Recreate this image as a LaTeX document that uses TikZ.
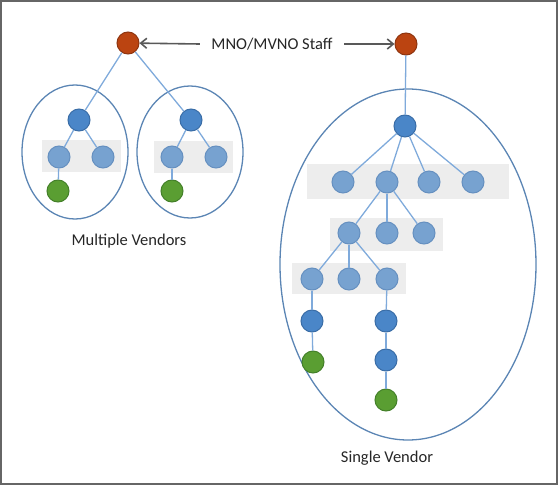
\documentclass[tikz,border=0pt]{standalone}
\usepackage{fontspec}
\setmainfont{Carlito}
\usetikzlibrary{arrows.meta}
\definecolor{rootc}{HTML}{BB4411}
\definecolor{rootd}{HTML}{8E3510}
\definecolor{bluec}{HTML}{4A86C8}
\definecolor{blued}{HTML}{3A6DA6}
\definecolor{lbluec}{HTML}{77A2D0}
\definecolor{lblued}{HTML}{6690C0}
\definecolor{greenc}{HTML}{5A9E32}
\definecolor{greend}{HTML}{44802A}
\definecolor{edgec}{HTML}{7FAADB}
\definecolor{ellc}{HTML}{5B85B4}
\definecolor{bandc}{HTML}{EDEDED}
\definecolor{arrc}{HTML}{595959}
\tikzset{
  x=1pt, y=-1pt,
  dot/.style={circle, minimum size=22pt, inner sep=0pt, line width=1pt},
  root/.style={dot, fill=rootc, draw=rootd},
  bnode/.style={dot, fill=bluec, draw=blued},
  lnode/.style={dot, fill=lbluec, draw=lblued},
  gnode/.style={dot, fill=greenc, draw=greend},
  link/.style={draw=edgec, line width=1.3pt},
  band/.style={fill=bandc, draw=none},
  vendor/.style={draw=ellc, line width=1.3pt},
  staffarrow/.style={draw=arrc, line width=1.6pt, -{Straight Barb[length=6pt,width=10pt]}},
  lbl/.style={font=\fontsize{16.5}{19}\selectfont, text=black!85}
}
\begin{document}
\begin{tikzpicture}
\useasboundingbox (0,0) rectangle (558,485);
\draw[draw=gray!80!black, line width=2pt] (1,1) rectangle (557,484);

% gray bands
\fill[band] (42,140) rectangle (121,172);
\fill[band] (154,141) rectangle (233,173);
\fill[band] (307,164) rectangle (509,199);
\fill[band] (330,218) rectangle (443,251);
\fill[band] (292,263) rectangle (406,294);

% ellipses
\draw[vendor] (75,152) ellipse [x radius=53, y radius=67];
\draw[vendor] (190,152) ellipse [x radius=53, y radius=66];
\draw[vendor] (408,264.5) ellipse [x radius=128, y radius=175.5];

% left trees
\node[root] (r1) at (128,43) {};
\node[bnode] (a1) at (79,120) {};
\node[lnode] (a11) at (59,157) {};
\node[lnode] (a12) at (103,157) {};
\node[gnode] (a111) at (58,191) {};
\node[bnode] (b1) at (191,120) {};
\node[lnode] (b11) at (172,157) {};
\node[lnode] (b12) at (216,157) {};
\node[gnode] (b111) at (172,191) {};

% right tree
\node[root] (r2) at (406,44) {};
\node[bnode] (c) at (405,126) {};
\node[lnode] (c1) at (343,182) {};
\node[lnode] (c2) at (387,182) {};
\node[lnode] (c3) at (429,182) {};
\node[lnode] (c4) at (473,182) {};
\node[lnode] (d1) at (349,233) {};
\node[lnode] (d2) at (387,233) {};
\node[lnode] (d3) at (424,233) {};
\node[lnode] (e1) at (312,279) {};
\node[lnode] (e2) at (349,279) {};
\node[lnode] (e3) at (387,279) {};
\node[bnode] (f1) at (312,321) {};
\node[gnode] (g1) at (313,362) {};
\node[bnode] (f3) at (386,321) {};
\node[bnode] (h3) at (386,360) {};
\node[gnode] (g3) at (386,400) {};

% links
\draw[link] (r1) -- (a1);
\draw[link] (r1) -- (b1);
\draw[link] (a1) -- (a11);
\draw[link] (a1) -- (a12);
\draw[link] (a11) -- (a111);
\draw[link] (b1) -- (b11);
\draw[link] (b1) -- (b12);
\draw[link] (b11) -- (b111);
\draw[link] (r2) -- (c);
\foreach \n in {c1,c2,c3,c4} \draw[link] (c) -- (\n);
\foreach \n in {d1,d2,d3} \draw[link] (c2) -- (\n);
\foreach \n in {e1,e2,e3} \draw[link] (d1) -- (\n);
\draw[link] (e1) -- (f1);
\draw[link] (f1) -- (g1);
\draw[link] (e3) -- (f3);
\draw[link] (f3) -- (h3);
\draw[link] (h3) -- (g3);

% labels
\node[lbl] (staff) at (272,44) {MNO/MVNO Staff};
\coordinate (sl) at ([xshift=-8pt]staff.west);
\coordinate (sr) at ([xshift=8pt]staff.east);
\draw[staffarrow] (sl) -- (r1);
\draw[staffarrow] (sr) -- (r2);
\node[lbl] (mv) at (129,241) {Multiple Vendors};
\node[lbl] (sv) at (387,458) {Single Vendor};
\end{tikzpicture}
\end{document}
